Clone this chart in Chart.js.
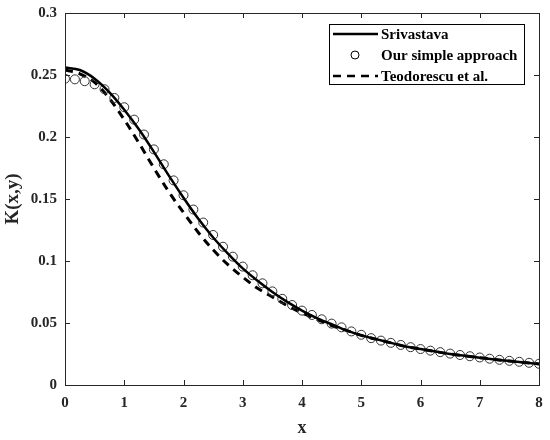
<!DOCTYPE html>
<html>
<head>
<meta charset="utf-8">
<script src="https://cdn.jsdelivr.net/npm/chart.js@4/dist/chart.umd.min.js"></script>
<style>
    body { margin: 0; background: #fff; }
    #wrap { width: 550px; height: 440px; position: relative; }
</style>
</head>
<body>
<div id="wrap"><canvas id="kChart"></canvas></div>
<script>
// curve samples
const lineX = [0, 0.25, 0.5, 0.75, 1, 1.25, 1.5, 1.75, 2, 2.25, 2.5, 2.75, 3, 3.25, 3.5, 3.75, 4,
    4.25, 4.5, 4.75, 5, 5.25, 5.5, 5.75, 6, 6.25, 6.5, 6.75, 7, 7.25, 7.5, 7.75, 8];
const srivastava = [0.256, 0.254, 0.247, 0.236, 0.222, 0.206, 0.188, 0.169, 0.151, 0.134, 0.119, 0.106, 0.094,
    0.084, 0.075, 0.067, 0.060, 0.054, 0.049, 0.044, 0.040, 0.037, 0.034, 0.031, 0.029, 0.027, 0.025,
    0.0235, 0.0220, 0.0205, 0.0193, 0.0181, 0.0170];
const teodorescu = [0.254, 0.251, 0.244, 0.231, 0.214, 0.195, 0.175, 0.156, 0.139, 0.123, 0.109, 0.097, 0.087,
    0.078, 0.071, 0.064, 0.058, 0.053, 0.048, 0.044, 0.040, 0.037, 0.034, 0.031, 0.029, 0.027, 0.025,
    0.0235, 0.0220, 0.0205, 0.0193, 0.0181, 0.0170];

// circle markers
const circleX = [0, 0.167, 0.333, 0.5, 0.667, 0.833, 1, 1.167, 1.333, 1.5, 1.667, 1.833, 2, 2.167, 2.333, 2.5,
    2.667, 2.833, 3, 3.167, 3.333, 3.5, 3.667, 3.833, 4, 4.167, 4.333, 4.5, 4.667, 4.833, 5, 5.167, 5.333,
    5.5, 5.667, 5.833, 6, 6.167, 6.333, 6.5, 6.667, 6.833, 7, 7.167, 7.333, 7.5, 7.667, 7.833, 8];
const simpleApproach = [0.247, 0.2465, 0.245, 0.2425, 0.2385, 0.2315, 0.224, 0.214, 0.202, 0.190, 0.178, 0.165,
    0.153, 0.1415, 0.131, 0.121, 0.1115, 0.1035, 0.0955, 0.0885, 0.082, 0.0755, 0.0695, 0.0645, 0.060, 0.0565,
    0.053, 0.0495, 0.0465, 0.0432, 0.0405, 0.0378, 0.0358, 0.034, 0.0323, 0.0305, 0.029, 0.0277, 0.0265,
    0.0253, 0.0242, 0.0232, 0.0222, 0.0212, 0.0203, 0.0195, 0.0187, 0.0179, 0.0171];

const xTicks = [0, 1, 2, 3, 4, 5, 6, 7, 8];
const yTicks = [0, 0.05, 0.1, 0.15, 0.2, 0.25, 0.3];

const ink = '#262626';
const serif = "'Liberation Serif', 'Times New Roman', serif";

function toPoints(xs, ys) {
    return xs.map((x, i) => ({x: x, y: ys[i]}));
}

// box around the axes, inward ticks and the boxed legend
const framePlugin = {
    id: 'frame',
    afterDraw(chart) {
        const ctx = chart.ctx;
        const a = chart.chartArea;
        const xs = chart.scales.x, ys = chart.scales.y;
        ctx.save();
        ctx.strokeStyle = ink;
        ctx.lineWidth = 1;
        ctx.setLineDash([]);
        ctx.strokeRect(Math.round(a.left) + 0.5, Math.round(a.top) + 0.5,
            Math.round(a.right - a.left), Math.round(a.bottom - a.top));
        ctx.beginPath();
        xTicks.forEach(v => {
            let px = Math.round(xs.getPixelForValue(v)) + 0.5;
            ctx.moveTo(px, a.bottom); ctx.lineTo(px, a.bottom - 5);
            ctx.moveTo(px, a.top); ctx.lineTo(px, a.top + 5);
        });
        yTicks.forEach(v => {
            let py = Math.round(ys.getPixelForValue(v)) + 0.5;
            ctx.moveTo(a.left, py); ctx.lineTo(a.left + 5, py);
            ctx.moveTo(a.right, py); ctx.lineTo(a.right - 5, py);
        });
        ctx.stroke();

        // legend
        const lx = a.right - 210, ly = a.top + 11, lw = 195, lh = 60;
        ctx.fillStyle = '#fff';
        ctx.fillRect(lx, ly, lw, lh);
        ctx.strokeStyle = '#000';
        ctx.strokeRect(lx + 0.5, ly + 0.5, lw, lh);
        ctx.font = 'bold 15px ' + serif;
        ctx.textBaseline = 'middle';
        ctx.fillStyle = '#000';
        chart.data.datasets.forEach((ds, i) => {
            let rowY = ly + 10 + i * 21;
            ctx.strokeStyle = '#000';
            if (ds.showLine === false) {
                ctx.lineWidth = 1;
                ctx.setLineDash([]);
                ctx.beginPath();
                ctx.arc(lx + 26, rowY, 4, 0, Math.PI * 2);
                ctx.stroke();
            } else {
                ctx.lineWidth = 2.5;
                ctx.setLineDash(ds.borderDash || []);
                ctx.beginPath();
                ctx.moveTo(lx + 4, rowY);
                ctx.lineTo(lx + 49, rowY);
                ctx.stroke();
            }
            ctx.fillText(ds.label, lx + 52, rowY + 1);
        });
        ctx.restore();
    }
};

new Chart(document.getElementById('kChart'), {
    type: 'line',
    data: {
        datasets: [
            {
                label: 'Srivastava',
                data: toPoints(lineX, srivastava),
                borderColor: '#000',
                borderWidth: 2.5,
                pointRadius: 0,
                cubicInterpolationMode: 'monotone',
                fill: false
            },
            {
                label: 'Our simple approach',
                data: toPoints(circleX, simpleApproach),
                showLine: false,
                borderColor: '#333',
                backgroundColor: 'rgba(0,0,0,0)',
                pointBorderWidth: 1,
                pointRadius: 4.5,
                pointStyle: 'circle'
            },
            {
                label: 'Teodorescu et al.',
                data: toPoints(lineX, teodorescu),
                borderColor: '#000',
                borderWidth: 3,
                borderDash: [8, 6],
                pointRadius: 0,
                cubicInterpolationMode: 'monotone',
                fill: false
            }
        ]
    },
    options: {
        responsive: true,
        maintainAspectRatio: false,
        animation: false,
        layout: {padding: {top: 13, right: 11, bottom: 0, left: 0}},
        scales: {
            x: {
                type: 'linear',
                min: 0,
                max: 8,
                afterBuildTicks: s => { s.ticks = xTicks.map(v => ({value: v})); },
                afterFit: s => { s.height = 55; s.paddingLeft = 0; s.paddingRight = 0; },
                grid: {display: false, drawTicks: false},
                border: {display: false},
                ticks: {
                    padding: 9,
                    color: ink,
                    font: {family: serif, size: 15, weight: 'bold'},
                    maxRotation: 0
                },
                title: {
                    display: true,
                    text: 'x',
                    color: ink,
                    padding: {top: 0, bottom: 1},
                    font: {family: serif, size: 18, weight: 'bold'}
                }
            },
            y: {
                min: 0,
                max: 0.3,
                afterBuildTicks: s => { s.ticks = yTicks.map(v => ({value: v})); },
                afterFit: s => { s.width = 65; s.paddingTop = 0; s.paddingBottom = 0; },
                grid: {display: false, drawTicks: false},
                border: {display: false},
                ticks: {
                    padding: 8,
                    color: ink,
                    font: {family: serif, size: 15, weight: 'bold'},
                    callback: v => String(+v.toFixed(2))
                },
                title: {
                    display: true,
                    text: 'K(x,y)',
                    color: ink,
                    padding: {top: 2, bottom: 0},
                    font: {family: serif, size: 19, weight: 'bold'}
                }
            }
        },
        plugins: {
            legend: {display: false},
            tooltip: {enabled: false}
        }
    },
    plugins: [framePlugin]
});
</script>
</body>
</html>
